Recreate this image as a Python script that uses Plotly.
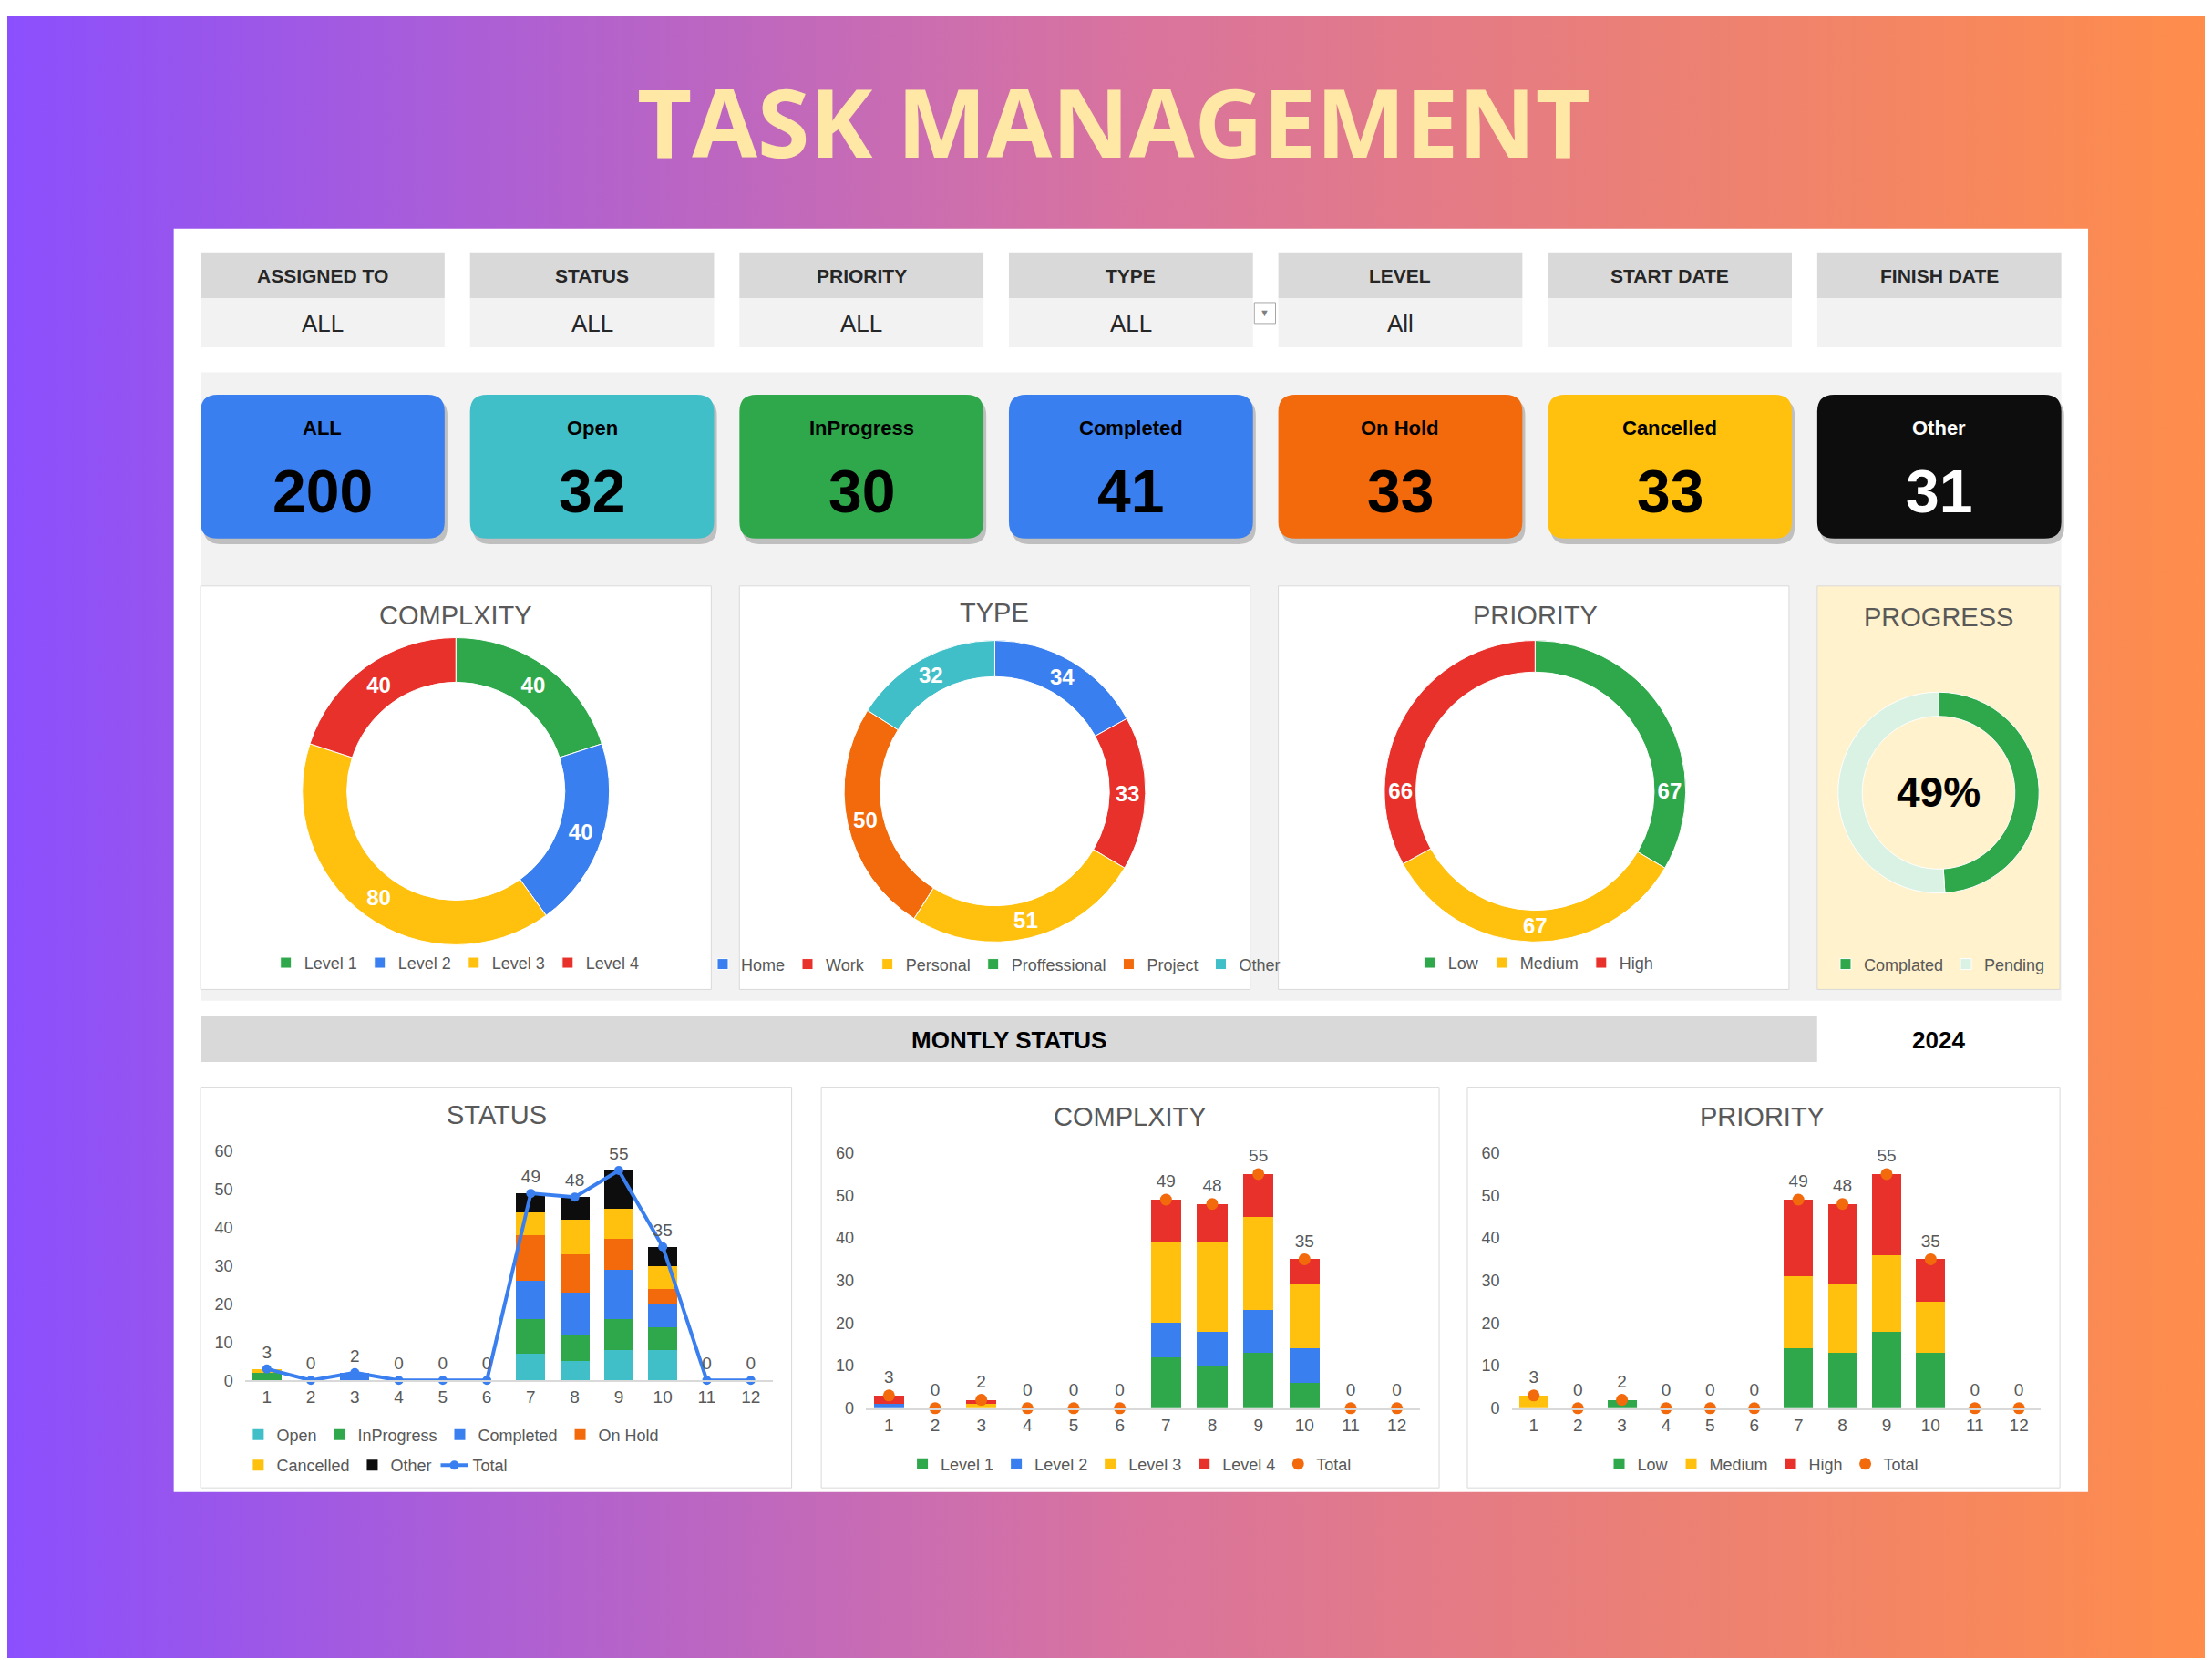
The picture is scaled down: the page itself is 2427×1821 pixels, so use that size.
import base64
import plotly.graph_objects as go

W, H = 2427, 1821

# ---- data ----
filter_names = ["ASSIGNED TO", "STATUS", "PRIORITY", "TYPE", "LEVEL", "START DATE", "FINISH DATE"]
filter_values = ["ALL", "ALL", "ALL", "ALL", "All", "", ""]

card_names = ["ALL", "Open", "InProgress", "Completed", "On Hold", "Cancelled", "Other"]
card_counts = [200, 32, 30, 41, 33, 33, 31]
card_colors = ["#3A7FEF", "#40BFC8", "#2EA84B", "#3A7FEF", "#F26A0C", "#FFC10E", "#0D0D0D"]

level_labels = ["Level 1", "Level 2", "Level 3", "Level 4"]
level_counts = [40, 40, 80, 40]
type_labels = ["Home", "Work", "Personal", "Proffessional", "Project", "Other"]
type_counts = [34, 33, 51, 0, 50, 32]
prio_labels = ["Low", "Medium", "High"]
prio_counts = [67, 67, 66]
progress_labels = ["Complated", "Pending"]
progress_values = [49, 51]

months = list(range(1, 13))
status_names = ["Open", "InProgress", "Completed", "On Hold", "Cancelled", "Other"]
status_month = [
    [0, 0, 0, 0, 0, 0, 7, 5, 8, 8, 0, 0],
    [2, 0, 0, 0, 0, 0, 9, 7, 8, 6, 0, 0],
    [0, 0, 2, 0, 0, 0, 10, 11, 13, 6, 0, 0],
    [0, 0, 0, 0, 0, 0, 12, 10, 8, 4, 0, 0],
    [1, 0, 0, 0, 0, 0, 6, 9, 8, 6, 0, 0],
    [0, 0, 0, 0, 0, 0, 5, 6, 10, 5, 0, 0],
]
level_month = [
    [0, 0, 0, 0, 0, 0, 12, 10, 13, 6, 0, 0],
    [1, 0, 0, 0, 0, 0, 8, 8, 10, 8, 0, 0],
    [0, 0, 1, 0, 0, 0, 19, 21, 22, 15, 0, 0],
    [2, 0, 1, 0, 0, 0, 10, 9, 10, 6, 0, 0],
]
prio_month = [
    [0, 0, 2, 0, 0, 0, 14, 13, 18, 13, 0, 0],
    [3, 0, 0, 0, 0, 0, 17, 16, 18, 12, 0, 0],
    [0, 0, 0, 0, 0, 0, 18, 19, 19, 10, 0, 0],
]
month_totals = [3, 0, 2, 0, 0, 0, 49, 48, 55, 35, 0, 0]

GREEN, BLUE, YELLOW, RED = "#2EA84B", "#3A7FEF", "#FFC10E", "#E8312B"
ORANGE, TEAL, BLACK = "#F26A0C", "#40BFC8", "#0D0D0D"
status_colors = [TEAL, GREEN, BLUE, ORANGE, YELLOW, BLACK]
level_colors = [GREEN, BLUE, YELLOW, RED]
prio_colors = [GREEN, YELLOW, RED]
type_colors = [BLUE, RED, YELLOW, GREEN, ORANGE, TEAL]

FONT = "Liberation Sans"
GREY_TXT = "#595959"

# reference coords were read at 1568 x 1176
def X(v):
    return v / 1568

def Y(v):
    return 1 - v / 1176

fig = go.Figure()
shapes, annotations = [], []

def rect(x0, y0, x1, y1, fill, line=None, lw=0):
    shapes.append(dict(type="rect", xref="paper", yref="paper", x0=X(x0), x1=X(x1),
                       y0=Y(y1), y1=Y(y0), fillcolor=fill, layer="below",
                       line=dict(color=line or fill, width=lw)))

def rrect(x0, y0, x1, y1, fill, r=10):
    a, b, c, d = X(x0), Y(y1), X(x1), Y(y0)
    rx, ry = r / 1568, r / 1176
    path = (f"M {a+rx},{b} L {c-rx},{b} Q {c},{b} {c},{b+ry} L {c},{d-ry} Q {c},{d} {c-rx},{d} "
            f"L {a+rx},{d} Q {a},{d} {a},{d-ry} L {a},{b+ry} Q {a},{b} {a+rx},{b} Z")
    shapes.append(dict(type="path", xref="paper", yref="paper", path=path,
                       fillcolor=fill, line=dict(width=0), layer="below"))

def text(x, y, s, size, color="#000", bold=False, xanchor="center", family=FONT):
    annotations.append(dict(x=X(x), y=Y(y), xref="paper", yref="paper", text=s,
                            showarrow=False, xanchor=xanchor, yanchor="middle",
                            font=dict(size=size, color=color, family=family,
                                      weight="bold" if bold else "normal")))

# background gradient
svg = ('<svg xmlns="http://www.w3.org/2000/svg" width="100" height="100" preserveAspectRatio="none">'
       '<defs><linearGradient id="g" x1="0" x2="1" y1="0" y2="0">'
       '<stop offset="0" stop-color="#8B4FFD"/><stop offset="0.5" stop-color="#D873A0"/>'
       '<stop offset="1" stop-color="#FF8D4A"/></linearGradient></defs>'
       '<rect width="100" height="100" fill="url(#g)"/></svg>')
src = "data:image/svg+xml;base64," + base64.b64encode(svg.encode()).decode()
images = [dict(source=src, xref="paper", yref="paper", x=0, y=1, sizex=1, sizey=1,
               sizing="stretch", layer="below")]

text(784, 75, "TASK MANAGEMENT", 104, "#FFE7A6", True, family="Open Sans")

# white panel
rect(118, 152, 1475, 1057, "#FFFFFF")

# filters
for i, (n, v) in enumerate(zip(filter_names, filter_values)):
    x0 = 137 + 191 * i
    rect(x0, 169, x0 + 173, 202, "#D9D9D9")
    rect(x0, 202, x0 + 173, 237, "#F2F2F2")
    text(x0 + 86.5, 186, n, 21, "#262626", True)
    text(x0 + 86.5, 220, v, 26, "#262626")
rect(884, 205, 899, 220, "#FFFFFF", "#A6A6A6", 1)
text(891.5, 212.5, "▼", 11, "#7F7F7F")

# grey band behind cards and donuts
rect(137, 255, 1456, 705, "#F2F2F2")

# cards
for i, (n, c, col) in enumerate(zip(card_names, card_counts, card_colors)):
    x0 = 137 + 191 * i
    rrect(x0 + 2, 274, x0 + 175, 378, "#BFBFBF", 12)
    rrect(x0, 271, x0 + 173, 374, col, 12)
    fc = "#FFFFFF" if n == "Other" else "#000000"
    text(x0 + 86.5, 295, n, 22, fc, True)
    text(x0 + 86.5, 340, str(c), 66, fc, True)

# donut panels
for x0, x1, fill in [(137, 499, "#FFFFFF"), (519, 881, "#FFFFFF"), (901, 1263, "#FFFFFF"),
                     (1283, 1455, "#FFF2CC")]:
    rect(x0, 408, x1, 697, fill, "#D9D9D9", 1)
text(318, 429, "COMPLXITY", 29, GREY_TXT)
text(700, 427, "TYPE", 29, GREY_TXT)
text(1083, 429, "PRIORITY", 29, GREY_TXT)
text(1369, 430, "PROGRESS", 29, GREY_TXT)

def donut(labels, values, colors, cx, cy, r, hole, legend, show_text=True):
    fig.add_trace(go.Pie(
        labels=labels, values=values, hole=hole, sort=False, direction="clockwise",
        rotation=0, marker=dict(colors=colors, line=dict(color="#FFFFFF", width=1)),
        textinfo="value" if show_text else "none", textposition="inside",
        insidetextorientation="horizontal",
        textfont=dict(size=24, color="#FFFFFF", family=FONT, weight="bold"),
        domain=dict(x=[X(cx - r), X(cx + r)], y=[Y(cy + r), Y(cy - r)]),
        legend=legend, hoverinfo="label+value"))

donut(level_labels, level_counts, level_colors, 318, 555, 110, 0.71, "legend")
donut(type_labels, type_counts, type_colors, 700, 555, 108, 0.76, "legend2")
donut(prio_labels, prio_counts, prio_colors, 1083, 555, 108, 0.79, "legend3")
donut(progress_labels, progress_values, ["#2EA84B", "#D9F2E3"], 1369, 556, 72, 0.76,
      "legend4", show_text=False)
text(1369, 556, "49%", 46, "#000000", True)

# monthly status header
rect(137, 716, 1283, 749, "#D9D9D9")
rect(1283, 716, 1456, 749, "#FFFFFF")
text(710, 733, "MONTLY STATUS", 26, "#000000", True)
text(1369, 733, "2024", 26, "#000000", True)

# bottom panels
for x0, x1 in [(137, 556), (577, 1015), (1035, 1455)]:
    rect(x0, 767, x1, 1054, "#FFFFFF", "#D9D9D9", 1)
text(347, 787, "STATUS", 29, GREY_TXT)
text(796, 788, "COMPLXITY", 29, GREY_TXT)
text(1244, 788, "PRIORITY", 29, GREY_TXT)

def bars(names, data, colors, xa, ya, legends):
    for n, d, c, lg in zip(names, data, colors, legends):
        fig.add_trace(go.Bar(x=months, y=d, name=n, marker=dict(color=c, line=dict(width=0)),
                             width=0.66, xaxis=xa, yaxis=ya, legend=lg))

bars(status_names, status_month, status_colors, "x", "y",
     ["legend8"] * 4 + ["legend9"] * 2)
fig.add_trace(go.Scatter(x=months, y=month_totals, name="Total", mode="lines+markers+text",
                         line=dict(color="#3A7FEF", width=4), marker=dict(size=10),
                         text=month_totals, textposition="top center",
                         textfont=dict(size=19, color=GREY_TXT, family=FONT),
                         xaxis="x", yaxis="y", legend="legend9", cliponaxis=False))

bars(level_labels, level_month, level_colors, "x2", "y2", ["legend5"] * 4)
fig.add_trace(go.Scatter(x=months, y=month_totals, name="Total", mode="markers+text",
                         marker=dict(color="#F26A0C", size=13), text=month_totals,
                         textposition="top center",
                         textfont=dict(size=19, color=GREY_TXT, family=FONT),
                         xaxis="x2", yaxis="y2", legend="legend5", cliponaxis=False))

bars(prio_labels, prio_month, prio_colors, "x3", "y3", ["legend6"] * 3)
fig.add_trace(go.Scatter(x=months, y=month_totals, name="Total", mode="markers+text",
                         marker=dict(color="#F26A0C", size=13), text=month_totals,
                         textposition="top center",
                         textfont=dict(size=19, color=GREY_TXT, family=FONT),
                         xaxis="x3", yaxis="y3", legend="legend6", cliponaxis=False))

def xaxis(dom, anchor):
    return dict(domain=dom, anchor=anchor, range=[0.5, 12.5], tickmode="array",
                tickvals=months, showgrid=False, showline=True, linecolor="#D9D9D9",
                linewidth=2, zeroline=False, ticks="", fixedrange=True,
                tickfont=dict(size=19, color=GREY_TXT, family=FONT))

def yaxis(dom, anchor):
    return dict(domain=dom, anchor=anchor, range=[0, 60], tickvals=[0, 10, 20, 30, 40, 50, 60],
                showgrid=False, zeroline=False, showline=False, fixedrange=True,
                tickfont=dict(size=18, color=GREY_TXT, family=FONT), ticklabelstandoff=12)

def legend(x, y, anchor="center"):
    return dict(x=X(x), y=Y(y), xanchor=anchor, yanchor="middle", orientation="h",
                bgcolor="rgba(0,0,0,0)", traceorder="normal", itemclick=False,
                font=dict(size=18, color=GREY_TXT, family=FONT), itemwidth=30)

fig.update_layout(
    width=W, height=H, margin=dict(l=0, r=0, t=0, b=0),
    paper_bgcolor="#FFFFFF", plot_bgcolor="rgba(0,0,0,0)",
    barmode="stack", bargap=0.3,
    shapes=shapes, annotations=annotations, images=images,
    xaxis=xaxis([X(168.4), X(542.6)], "y"), yaxis=yaxis([Y(977), Y(813)], "x"),
    xaxis2=xaxis([X(608.6), X(1001.4)], "y2"), yaxis2=yaxis([Y(997), Y(814)], "x2"),
    xaxis3=xaxis([X(1066.4), X(1441.6)], "y3"), yaxis3=yaxis([Y(997), Y(814)], "x3"),
    legend=legend(318, 678), legend2=legend(700, 679), legend3=legend(1083, 678),
    legend4=legend(1369, 679), legend5=legend(796, 1037), legend6=legend(1244, 1037),
    legend8=legend(165, 1016, "left"), legend9=legend(165, 1038, "left"),
    showlegend=True,
)

fig.write_html("out.html")
